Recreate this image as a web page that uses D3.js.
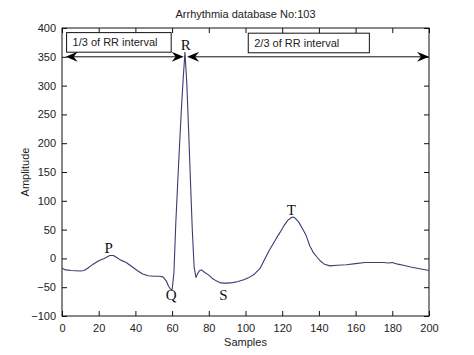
<!DOCTYPE html>
<html><head><meta charset="utf-8">
<script src="https://cdn.jsdelivr.net/npm/d3@7"></script>
<style>
html,body{margin:0;padding:0;background:#fff;}
svg text{font-family:"Liberation Sans",Arial,sans-serif;}
svg text.wave{font-family:"Liberation Serif","Times New Roman",serif;}
</style></head>
<body><svg id="c" width="474" height="355"></svg>
<script>
// ECG samples (sample index, amplitude)
const samples = [0,2,5,10,12,14,17,20,23,26,28,30,32,35,38,41,44,47,50,53,55,57,58,59,60,61,62,63,64,65,66,67,68,69,70,71,72,73,74,75,76,78,80,82,84,86,88,90,93,96,99,102,105,108,111,113,115,117,119,121,123,125,126,127,129,131,133,135,137,139,141,143,146,150,155,160,165,170,175,178,180,183,186,190,195,200];
const amplitude = [-17,-20,-21,-22,-21,-17,-10,-4,0,5,5,1,-3,-7,-14,-21,-27,-30,-31,-31,-32,-40,-48,-53,-55,-25,60,128,193,255,310,358,305,222,135,50,-15,-33,-26,-21,-20,-25,-29,-35,-39,-42,-43,-43,-42,-40,-37,-33,-27,-17,2,14,25,36,46,57,66,71,72,70,63,52,40,22,10,2,-5,-10,-13,-12,-11,-9,-7,-7,-7,-8,-7,-10,-12,-15,-18,-21];
const xTicks = [0,20,40,60,80,100,120,140,160,180,200];
const yTicks = [-100,-50,0,50,100,150,200,250,300,350,400];
// wave labels
const waveNames = ["P","Q","R","S","T"];
const waveX = [25.5,59.5,67.5,88,125];
const waveY = [10,-73,362,-72,75];
// RR interval annotations
const boxText = ["1/3 of RR interval","2/3 of RR interval"];
const boxX0 = [2.5,101.5];
const boxX1 = [59.5,167.5];
const boxYTop = [392,391];
const boxYBot = [358,357];
const arrowX0 = [2,68.2];
const arrowX1 = [66.3,200];
const arrowY = 350;

const svg = d3.select("#c");
const L=62, R=429, T=28, B=316;
const x = d3.scaleLinear().domain([0,200]).range([L,R]);
const y = d3.scaleLinear().domain([-100,400]).range([B,T]);

// title
svg.append("text").attr("x",(L+R)/2).attr("y",18).attr("text-anchor","middle")
  .attr("font-size",11).attr("fill","#222").text("Arrhythmia database No:103");

// axes
const gx = svg.append("g").attr("transform",`translate(0,${B})`)
  .call(d3.axisBottom(x).tickValues(xTicks).tickSize(-5).tickPadding(8));
const gy = svg.append("g").attr("transform",`translate(${L},0)`)
  .call(d3.axisLeft(y).tickValues(yTicks).tickSize(-5).tickPadding(6));
const gt = svg.append("g").attr("transform",`translate(0,${T})`)
  .call(d3.axisTop(x).tickValues(xTicks).tickSize(-5).tickFormat(""));
const gr = svg.append("g").attr("transform",`translate(${R},0)`)
  .call(d3.axisRight(y).tickValues(yTicks).tickSize(-5).tickFormat(""));
[gx,gy,gt,gr].forEach(g=>{
  g.select(".domain").remove();
  g.selectAll("line").attr("stroke","#111");
  g.selectAll("text").attr("font-size",11).attr("fill","#222");
});
svg.append("rect").attr("x",L).attr("y",T).attr("width",R-L).attr("height",B-T)
  .attr("fill","none").attr("stroke","#111").attr("stroke-width",1);

// axis labels
svg.append("text").attr("x",(L+R)/2).attr("y",346).attr("text-anchor","middle")
  .attr("font-size",11).attr("fill","#222").text("Samples");
svg.append("text").attr("transform",`translate(29,${(T+B)/2}) rotate(-90)`)
  .attr("text-anchor","middle").attr("font-size",11).attr("fill","#222").text("Amplitude");

// ECG line
const pts = samples.map((s,i)=>[s,amplitude[i]]);
svg.append("path").datum(pts)
  .attr("d",d3.line().x(d=>x(d[0])).y(d=>y(d[1])))
  .attr("fill","none").attr("stroke","#3c3c72").attr("stroke-width",1.1)
  .attr("stroke-linejoin","round");

// wave labels
svg.selectAll(".wave").data(waveNames).join("text").attr("class","wave")
  .attr("x",(d,i)=>x(waveX[i])).attr("y",(d,i)=>y(waveY[i]))
  .attr("text-anchor","middle").attr("font-size",15)
  .attr("fill","#111").text(d=>d);

// boxes
boxText.forEach((t,i)=>{
  const x0=x(boxX0[i]), x1=x(boxX1[i]), y0=y(boxYTop[i]), y1=y(boxYBot[i]);
  svg.append("rect").attr("x",x0).attr("y",y0).attr("width",x1-x0).attr("height",y1-y0)
    .attr("fill","#fff").attr("stroke","#111").attr("stroke-width",1);
  svg.append("text").attr("x",x0+6).attr("y",(y0+y1)/2+4).attr("font-size",11)
    .attr("fill","#222").text(t);
});

// arrows
function head(tx,ty,dir){
  const len=12, hw=5, notch=8;
  return `M${tx},${ty}L${tx-dir*len},${ty-hw}L${tx-dir*notch},${ty}L${tx-dir*len},${ty+hw}Z`;
}
arrowX0.forEach((a,i)=>{
  const xa=x(a), xb=x(arrowX1[i]), yy=y(arrowY);
  svg.append("line").attr("x1",xa+4).attr("x2",xb-4).attr("y1",yy).attr("y2",yy)
    .attr("stroke","#111").attr("stroke-width",1);
  svg.append("path").attr("d",head(xa,yy,-1)).attr("fill","#000");
  svg.append("path").attr("d",head(xb,yy,1)).attr("fill","#000");
});
</script></body></html>
